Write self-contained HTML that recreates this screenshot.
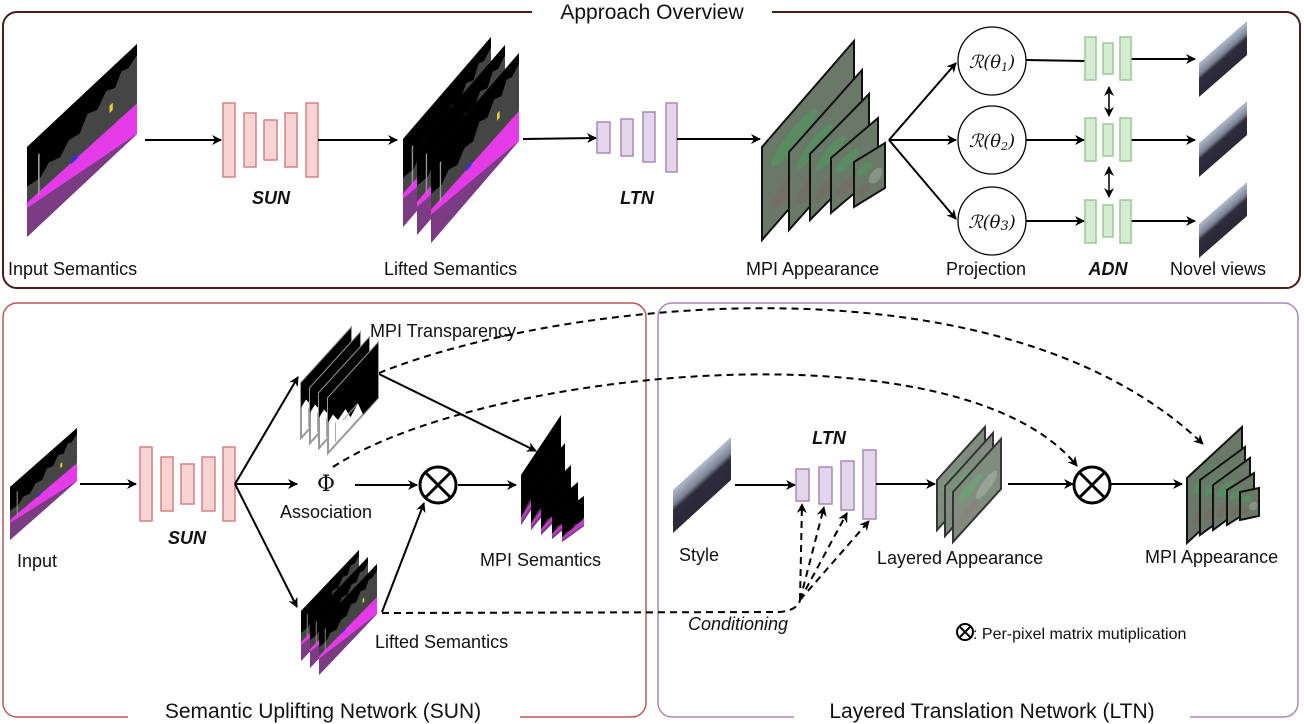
<!DOCTYPE html>
<html><head><meta charset="utf-8"><style>
html,body{margin:0;padding:0;background:#fff;}
svg{display:block;}
text{font-family:"Liberation Sans",Arial,sans-serif;fill:#111;}
.lbl{font-size:18px;}
.bi{font-size:18px;font-weight:bold;font-style:italic;}
.math{font-family:"DejaVu Serif","Liberation Serif",serif;font-size:18px;font-style:italic;}
</style></head><body>
<svg width="1304" height="724" viewBox="0 0 1304 724" xmlns="http://www.w3.org/2000/svg">
<defs>
<marker id="ah" markerWidth="10" markerHeight="10" refX="9" refY="5" orient="auto" markerUnits="userSpaceOnUse">
<path d="M0,0 L10,5 L0,10 L3,5 Z" fill="#000"/></marker>
<marker id="ahs" markerWidth="10" markerHeight="10" refX="1" refY="5" orient="auto" markerUnits="userSpaceOnUse">
<path d="M10,0 L0,5 L10,10 L7,5 Z" fill="#000"/></marker>
<linearGradient id="rg" x1="0" y1="0" x2="0" y2="1">
<stop offset="0" stop-color="#b4bccb"/><stop offset="0.35" stop-color="#7c8294"/><stop offset="0.5" stop-color="#2e2d3a"/><stop offset="1" stop-color="#2b2838"/></linearGradient>
<g id="sem">
<rect width="100" height="100" fill="#454545"/>
<path d="M0,0 H100 V12 L92,18 L86,14 L80,26 L72,20 L64,32 L55,26 L48,40 L38,36 L30,46 L20,40 L12,48 L0,44 Z" fill="#000"/>
<path d="M0,62 L100,66 L100,100 L0,68 Z" fill="#e53ae8"/>
<path d="M0,68 L100,100 L0,100 Z" fill="#7b3c83"/>
<rect x="75" y="40" width="3" height="8" fill="#e0d030"/>
<rect x="40" y="60" width="6" height="5" fill="#2838d8"/>
<rect x="10" y="20" width="1.5" height="45" fill="#999"/>
</g>
<g id="blk">
<rect width="100" height="100" fill="#333"/>
<path d="M0,0 H100 V70 L80,80 L60,70 L40,82 L20,75 L0,85 Z" fill="#000"/>
<path d="M0,85 L100,75 L100,100 L0,100 Z" fill="#c23ac8"/>
<path d="M0,92 L100,95 L100,100 L0,100 Z" fill="#7b3c83"/>
</g>
<g id="alpha">
<rect width="100" height="100" fill="#fff" stroke="#999" stroke-width="2" vector-effect="non-scaling-stroke"/>
<path d="M0,0 H100 V100 L70,100 L60,70 L45,80 L35,55 L20,60 L10,40 L0,45 Z" fill="#000"/>
<path d="M15,60 V95 M30,70 H60" stroke="#aaa" stroke-width="1" vector-effect="non-scaling-stroke"/>
</g>
<g id="app">
<rect width="100" height="100" fill="#6a7868" stroke="#111" stroke-width="2" vector-effect="non-scaling-stroke"/>
<ellipse cx="35" cy="30" rx="25" ry="12" fill="#4e9a5c" opacity="0.6"/>
<ellipse cx="70" cy="60" rx="22" ry="15" fill="#9aa896" opacity="0.6"/>
<ellipse cx="30" cy="75" rx="20" ry="12" fill="#7a6660" opacity="0.5"/>
</g>
<g id="road">
<rect width="100" height="100" fill="url(#rg)"/>
</g>
</defs>

<!-- TOP BOX -->
<rect x="3" y="12" width="1297" height="276" rx="14" fill="none" stroke="#4a1c1c" stroke-width="2"/>
<rect x="532" y="0" width="240" height="24" fill="#fff"/>
<text x="652" y="19" text-anchor="middle" style="font-size:21px">Approach Overview</text>

<use href="#sem" transform="matrix(1.1,-1.03,0,0.9,27,147)"/>
<line x1="145" y1="140" x2="221" y2="140" stroke="#000" stroke-width="2" marker-end="url(#ah)"/>
<g fill="#f8d3d3" stroke="#d08484" stroke-width="1.5">
<rect x="223" y="103" width="12" height="74"/><rect x="244" y="113" width="12" height="54"/>
<rect x="264" y="120" width="13" height="40"/><rect x="285" y="113" width="12" height="54"/>
<rect x="306" y="103" width="12" height="74"/></g>
<text x="271" y="204" text-anchor="middle" class="bi">SUN</text>
<line x1="318" y1="140" x2="397" y2="140" stroke="#000" stroke-width="2" marker-end="url(#ah)"/>
<use href="#sem" transform="matrix(0.88,-1.02,0,0.88,403,139)"/>
<use href="#sem" transform="matrix(0.88,-1.02,0,0.88,417,147)"/>
<use href="#sem" transform="matrix(0.88,-1.02,0,0.88,431,155)"/>
<line x1="523" y1="139" x2="596" y2="138" stroke="#000" stroke-width="2" marker-end="url(#ah)"/>
<g fill="#e4d6ea" stroke="#a78ab5" stroke-width="1.5">
<rect x="597" y="122" width="13" height="31"/><rect x="621" y="119" width="12" height="37"/>
<rect x="643" y="112" width="12" height="50"/><rect x="666" y="103" width="11" height="69"/></g>
<text x="637" y="204" text-anchor="middle" class="bi">LTN</text>
<line x1="677" y1="139" x2="760" y2="139" stroke="#000" stroke-width="2" marker-end="url(#ah)"/>
<use href="#app" transform="matrix(0.92,-1.06,0,0.93,762,147)"/>
<use href="#app" transform="matrix(0.73,-0.82,0,0.78,789,152)"/>
<use href="#app" transform="matrix(0.59,-0.60,0,0.66,810,154)"/>
<use href="#app" transform="matrix(0.47,-0.40,0,0.55,831,158)"/>
<use href="#app" transform="matrix(0.31,-0.19,0,0.45,854,162)"/>
<g stroke="#000" stroke-width="2" fill="none">
<line x1="889" y1="140" x2="956" y2="63" marker-end="url(#ah)"/>
<line x1="889" y1="140" x2="956" y2="140" marker-end="url(#ah)"/>
<line x1="889" y1="140" x2="956" y2="219" marker-end="url(#ah)"/>
</g>
<g fill="#fff" stroke="#000" stroke-width="1.3">
<circle cx="992" cy="61" r="34"/><circle cx="992" cy="140" r="34"/><circle cx="992" cy="221" r="34"/></g>
<text x="992" y="68" text-anchor="middle" class="math">ℛ(θ<tspan font-size="11" dy="3">1</tspan><tspan dy="-3">)</tspan></text>
<text x="992" y="147" text-anchor="middle" class="math">ℛ(θ<tspan font-size="11" dy="3">2</tspan><tspan dy="-3">)</tspan></text>
<text x="992" y="228" text-anchor="middle" class="math">ℛ(θ<tspan font-size="13" dy="2">3</tspan><tspan dy="-2">)</tspan></text>
<g stroke="#000" stroke-width="2">
<line x1="1026" y1="60" x2="1085" y2="61"/>
<line x1="1026" y1="140" x2="1084" y2="140" marker-end="url(#ah)"/>
<line x1="1026" y1="221" x2="1084" y2="221" marker-end="url(#ah)"/>
<line x1="1131" y1="59" x2="1195" y2="59" marker-end="url(#ah)"/>
<line x1="1131" y1="140" x2="1195" y2="140" marker-end="url(#ah)"/>
<line x1="1131" y1="221" x2="1195" y2="221" marker-end="url(#ah)"/>
<line x1="1109" y1="87" x2="1109" y2="116" marker-start="url(#ahs)" marker-end="url(#ah)" stroke-width="1.5"/>
<line x1="1109" y1="167" x2="1109" y2="197" marker-start="url(#ahs)" marker-end="url(#ah)" stroke-width="1.5"/>
</g>
<g fill="#d6ecd2" stroke="#9cc796" stroke-width="1.5">
<rect x="1085" y="37" width="11" height="43"/><rect x="1103" y="43" width="10" height="31"/><rect x="1120" y="37" width="11" height="43"/>
<rect x="1085" y="118" width="11" height="43"/><rect x="1103" y="124" width="10" height="32"/><rect x="1120" y="118" width="11" height="43"/>
<rect x="1085" y="200" width="11" height="43"/><rect x="1103" y="205" width="10" height="32"/><rect x="1120" y="200" width="11" height="43"/>
</g>
<use href="#road" transform="matrix(0.48,-0.42,0,0.34,1199,63)"/>
<use href="#road" transform="matrix(0.48,-0.42,0,0.34,1199,143)"/>
<use href="#road" transform="matrix(0.48,-0.42,0,0.34,1199,224)"/>

<text x="8" y="275" class="lbl">Input Semantics</text>
<text x="384" y="275" class="lbl">Lifted Semantics</text>
<text x="746" y="275" class="lbl">MPI Appearance</text>
<text x="946" y="275" class="lbl">Projection</text>
<text x="1108" y="275" text-anchor="middle" class="bi">ADN</text>
<text x="1170" y="275" class="lbl">Novel views</text>

<!-- BOTTOM LEFT BOX -->
<rect x="3" y="303" width="643" height="414" rx="14" fill="none" stroke="#b85a5a" stroke-width="1.5"/>
<rect x="128" y="700" width="392" height="24" fill="#fff"/>
<text x="323" y="718" text-anchor="middle" style="font-size:21px">Semantic Uplifting Network (SUN)</text>
<!-- BOTTOM RIGHT BOX -->
<rect x="658" y="303" width="640" height="414" rx="14" fill="none" stroke="#a58ab5" stroke-width="1.5"/>
<rect x="794" y="700" width="396" height="24" fill="#fff"/>
<text x="992" y="718" text-anchor="middle" style="font-size:21px">Layered Translation Network (LTN)</text>

<use href="#sem" transform="matrix(0.67,-0.59,0,0.53,10,487)"/>
<text x="17" y="567" class="lbl">Input</text>
<line x1="80" y1="484" x2="136" y2="484" stroke="#000" stroke-width="2" marker-end="url(#ah)"/>
<g fill="#f8d3d3" stroke="#d08484" stroke-width="1.5">
<rect x="140" y="447" width="12" height="74"/><rect x="161" y="457" width="12" height="54"/>
<rect x="181" y="464" width="13" height="40"/><rect x="202" y="457" width="13" height="54"/>
<rect x="223" y="447" width="12" height="74"/></g>
<text x="187" y="544" text-anchor="middle" class="bi">SUN</text>
<g stroke="#000" stroke-width="2">
<line x1="235" y1="484" x2="298" y2="377" marker-end="url(#ah)"/>
<line x1="235" y1="484" x2="297" y2="484" marker-end="url(#ah)"/>
<line x1="235" y1="484" x2="297" y2="607" marker-end="url(#ah)"/>
<line x1="355" y1="485" x2="417" y2="485" marker-end="url(#ah)"/>
<line x1="458" y1="485" x2="516" y2="485" marker-end="url(#ah)"/>
<line x1="379" y1="374" x2="536" y2="451" marker-end="url(#ah)"/>
<line x1="382" y1="612" x2="424" y2="503" marker-end="url(#ah)"/>
</g>
<use href="#alpha" transform="matrix(0.5,-0.55,0,0.55,301,383)"/>
<use href="#alpha" transform="matrix(0.5,-0.55,0,0.55,310,388)"/>
<use href="#alpha" transform="matrix(0.5,-0.55,0,0.55,319,393)"/>
<use href="#alpha" transform="matrix(0.5,-0.55,0,0.55,328,398)"/>
<text x="370" y="337" class="lbl">MPI Transparency</text>
<text x="326" y="491" text-anchor="middle" class="math" style="font-style:normal;font-size:22px">Φ</text>
<text x="326" y="518" text-anchor="middle" class="lbl">Association</text>
<g fill="#fff" stroke="#000" stroke-width="3">
<circle cx="438" cy="485" r="18"/><path d="M425,472 L451,498 M451,472 L425,498"/>
<circle cx="1092" cy="485" r="18"/><path d="M1079,472 L1105,498 M1105,472 L1079,498"/>
</g>
<use href="#sem" transform="matrix(0.58,-0.61,0,0.5,301,611)"/>
<use href="#sem" transform="matrix(0.58,-0.61,0,0.5,310,618)"/>
<use href="#sem" transform="matrix(0.58,-0.61,0,0.5,319,625)"/>
<text x="375" y="648" class="lbl">Lifted Semantics</text>
<use href="#blk" transform="matrix(0.4,-0.6,0,0.5,521,475)"/>
<use href="#blk" transform="matrix(0.34,-0.42,0,0.45,531,485)"/>
<use href="#blk" transform="matrix(0.3,-0.3,0,0.4,541,495)"/>
<use href="#blk" transform="matrix(0.26,-0.22,0,0.35,552,504)"/>
<use href="#blk" transform="matrix(0.22,-0.16,0,0.3,562,512)"/>
<text x="480" y="566" class="lbl">MPI Semantics</text>

<!-- dashed curves -->
<g fill="none" stroke="#000" stroke-width="2" stroke-dasharray="7,5">
<path d="M379,373 C560,300 1000,250 1203,444" marker-end="url(#ah)"/>
<path d="M333,467 C480,370 960,320 1077,466" marker-end="url(#ah)"/>
<path d="M382,613 L780,612 Q798,610 800,600"/>
<line x1="800" y1="600" x2="802" y2="504" marker-end="url(#ah)"/>
<line x1="800" y1="600" x2="824" y2="507" marker-end="url(#ah)"/>
<line x1="800" y1="600" x2="847" y2="513" marker-end="url(#ah)"/>
<line x1="800" y1="600" x2="869" y2="521" marker-end="url(#ah)"/>
</g>

<use href="#road" transform="matrix(0.58,-0.53,0,0.43,673,490)"/>
<text x="679" y="561" class="lbl">Style</text>
<line x1="735" y1="485" x2="795" y2="485" stroke="#000" stroke-width="2" marker-end="url(#ah)"/>
<g fill="#e4d6ea" stroke="#a78ab5" stroke-width="1.5">
<rect x="796" y="469" width="13" height="32"/><rect x="819" y="467" width="13" height="37"/>
<rect x="841" y="461" width="13" height="49"/><rect x="863" y="450" width="13" height="69"/></g>
<text x="829" y="444" text-anchor="middle" class="bi">LTN</text>
<line x1="876" y1="484" x2="935" y2="484" stroke="#000" stroke-width="2" marker-end="url(#ah)"/>
<g opacity="0.85">
<use href="#app" transform="matrix(0.48,-0.53,0,0.5,937,480)"/>
<use href="#app" transform="matrix(0.48,-0.53,0,0.5,945,486)"/>
<use href="#app" transform="matrix(0.48,-0.53,0,0.5,953,492)"/>
</g>
<text x="877" y="564" class="lbl">Layered Appearance</text>
<line x1="1008" y1="484" x2="1073" y2="484" stroke="#000" stroke-width="2" marker-end="url(#ah)"/>
<line x1="1111" y1="484" x2="1182" y2="484" stroke="#000" stroke-width="2" marker-end="url(#ah)"/>
<use href="#app" transform="matrix(0.55,-0.51,0,0.65,1187,478)"/>
<use href="#app" transform="matrix(0.45,-0.33,0,0.55,1200,480)"/>
<use href="#app" transform="matrix(0.37,-0.27,0,0.45,1213,485)"/>
<use href="#app" transform="matrix(0.27,-0.17,0,0.35,1227,490)"/>
<use href="#app" transform="matrix(0.19,-0.04,0,0.28,1240,492)"/>
<text x="1145" y="563" class="lbl">MPI Appearance</text>
<text x="688" y="630" class="lbl" style="font-style:italic">Conditioning</text>
<g fill="none" stroke="#000" stroke-width="2">
<circle cx="965" cy="632" r="8"/><path d="M959,626 L971,638 M971,626 L959,638"/></g>
<text x="973" y="639" style="font-size:16px">: Per-pixel matrix mutiplication</text>
</svg>
</body></html>
